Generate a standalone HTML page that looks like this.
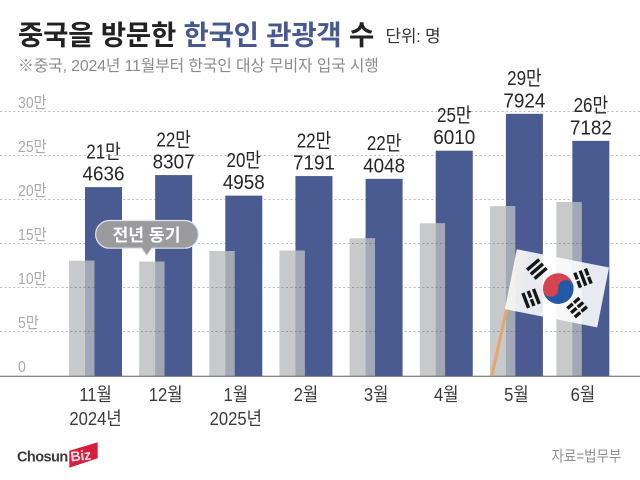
<!DOCTYPE html>
<html lang="ko">
<head>
<meta charset="utf-8">
<title>중국을 방문한 한국인 관광객 수</title>
<style>
  html, body { margin: 0; padding: 0; background: #fff; }
  body { width: 640px; height: 480px; overflow: hidden; }
  svg { display: block; font-family: "Liberation Sans", "Noto Sans CJK KR", sans-serif; }
</style>
</head>
<body>
<svg id="chart" xmlns="http://www.w3.org/2000/svg" width="640" height="480" viewBox="0 0 640 480">
  <defs>
    <linearGradient id="flagShade" x1="0" x2="1" y1="0" y2="0">
      <stop offset="0" stop-color="#f7f3ee" stop-opacity="0.97"/>
      <stop offset="0.18" stop-color="#ffffff" stop-opacity="0.87"/>
      <stop offset="1" stop-color="#ffffff" stop-opacity="0.87"/>
    </linearGradient>
  </defs>
  <rect width="640" height="480" fill="#ffffff"/>

  <text x="18" y="44.5" font-size="27.5" font-weight="700" fill="#222222" letter-spacing="-0.2">중국을 방문한 <tspan fill="#47588f">한국인 관광객</tspan> 수</text>
  <text x="385.5" y="42" font-size="17" fill="#333333" letter-spacing="-0.3">단위: 명</text>
  <text x="18" y="71" font-size="15.8" fill="#8b8b8b" letter-spacing="-0.1">※중국, 2024년 11월부터 한국인 대상 무비자 입국 시행</text>

  <g id="marks"></g>

  <g>
    <path d="M109.5 220.5H184.5A13.8 13.8 0 0 1 184.5 248.2H152L146.7 255.7L141.5 248.2H109.5A13.8 13.8 0 0 1 109.5 220.5Z" fill="#9b9b9d" stroke="#dfe4ee" stroke-width="1.2"/>
    <text x="146.5" y="241" font-size="17.2" font-weight="700" fill="#ffffff" text-anchor="middle">전년 동기</text>
  </g>

  <g>
    <line x1="506.7" y1="309" x2="491.7" y2="376" stroke="#e5a76b" stroke-width="3"/>
    <g transform="translate(557 288.3) rotate(11.2)">
      <rect x="-47" y="-30.5" width="94" height="61" fill="url(#flagShade)"/>
      <g transform="translate(1.3 0) rotate(-17)">
        <circle r="15.3" fill="#d5444f"/>
        <path d="M-15.3 0A15.3 15.3 0 0 0 15.3 0A7.65 7.65 0 0 0 0 0A7.65 7.65 0 0 1 -15.3 0Z" fill="#2059a8"/>
      </g>
      <g transform="translate(-23.5 -15) rotate(-52)" fill="#161616">
        <rect x="-8" y="-7.4" width="16" height="3.4"/><rect x="-8" y="-1.7" width="16" height="3.4"/><rect x="-8" y="4" width="16" height="3.4"/>
      </g>
      <g transform="translate(23.5 -15) rotate(58)" fill="#161616">
        <rect x="-8" y="-7.4" width="7.2" height="3.4"/><rect x="0.8" y="-7.4" width="7.2" height="3.4"/><rect x="-8" y="-1.7" width="16" height="3.4"/><rect x="-8" y="4" width="7.2" height="3.4"/><rect x="0.8" y="4" width="7.2" height="3.4"/>
      </g>
      <g transform="translate(-23.5 15) rotate(58)" fill="#161616">
        <rect x="-8" y="-7.4" width="16" height="3.4"/><rect x="-8" y="-1.7" width="7.2" height="3.4"/><rect x="0.8" y="-1.7" width="7.2" height="3.4"/><rect x="-8" y="4" width="16" height="3.4"/>
      </g>
      <g transform="translate(23.5 15) rotate(-52)" fill="#161616">
        <rect x="-8" y="-7.4" width="7.2" height="3.4"/><rect x="0.8" y="-7.4" width="7.2" height="3.4"/><rect x="-8" y="-1.7" width="7.2" height="3.4"/><rect x="0.8" y="-1.7" width="7.2" height="3.4"/><rect x="-8" y="4" width="7.2" height="3.4"/><rect x="0.8" y="4" width="7.2" height="3.4"/>
      </g>
    </g>
  </g>

  <g>
    <text x="17" y="461.5" font-size="14.5" font-weight="700" fill="#3a3a3c" letter-spacing="-0.55">Chosun</text>
    <polygon points="69.3,450.7 97.7,442.3 97.7,458.3 69.3,467.7" fill="#d3203f"/>
    <text x="71" y="461.5" font-size="14" font-weight="700" fill="#f7dfe3" transform="rotate(-6 71 461.5)" letter-spacing="-0.2">Biz</text>
  </g>
  <text transform="translate(551.5 461) scale(0.9 1)" font-size="15" fill="#8e8e8e">자료=법무부</text>
</svg>
<script>
const categories = ['11월', '12월', '1월', '2월', '3월', '4월', '5월', '6월'];
const yearLabels = ['2024년', '', '2025년', '', '', '', '', ''];
const currentVisitors = [214636, 228307, 204958, 227191, 224048, 256010, 297924, 267182];
const previousVisitors = [131000, 130000, 142000, 142600, 156500, 173500, 193000, 197700];
const yTicks = [0, 50000, 100000, 150000, 200000, 250000, 300000];
const yTickLabels = ['0', '5만', '10만', '15만', '20만', '25만', '30만'];

const SVG_NS = 'http://www.w3.org/2000/svg';
const marks = document.getElementById('marks');

function yScale(v) { return 376 - v * 44 / 50000; }
function xScale(i) { return 85 + 70.15 * i - (i === categories.length - 1 ? 3.7 : 0); }
const BLUE_W = 37;
const GRAY_W = 25.3;
const GRAY_OFFSET = -16;

function make(tag, attrs, parent) {
  const el = document.createElementNS(SVG_NS, tag);
  for (const k in attrs) el.setAttribute(k, attrs[k]);
  (parent || marks).appendChild(el);
  return el;
}
function formatMan(v) { return Math.floor(v / 10000) + '만'; }
function formatRest(v) { return String(v % 10000).padStart(4, '0'); }
function placed(x, y, sx) { return 'translate(' + x + ' ' + y + ') scale(' + sx + ' 1)'; }

const base = yScale(0);

currentVisitors.forEach(function (v, i) {
  const bar = make('rect', { x: xScale(i), y: yScale(v), width: BLUE_W, height: base - yScale(v), fill: '#4a5b92' });
  
  
});

previousVisitors.forEach(function (v, i) {
  const gx = xScale(i) + GRAY_OFFSET;
  const bar = make('rect', { x: gx, y: yScale(v), width: GRAY_W, height: base - yScale(v), fill: '#c8c9cb' });
  
  
  const overlap = make('rect', { x: xScale(i), y: yScale(v), width: GRAY_W + GRAY_OFFSET, height: base - yScale(v), fill: '#a3a8b5' });
  
  
});

yTicks.forEach(function (t, i) {
  if (t !== 0) {
    const grid = make('line', { x1: 0, x2: 640, y1: yScale(t) - 0.5, y2: yScale(t) - 0.5, stroke: '#55586a', 'stroke-opacity': 0.55, 'stroke-width': 0.8, 'stroke-dasharray': '2 2.4' });
    
    
  }
  const label = make('text', { transform: placed(18, yScale(t) - 4, 0.88), 'font-size': 16, fill: '#a8a8a8' });
  
  
  label.textContent = yTickLabels[i];
});

const axis = make('line', { x1: 0, x2: 640, y1: base + 0.3, y2: base + 0.3, stroke: '#5f5f5f', 'stroke-width': 1 });



currentVisitors.forEach(function (v, i) {
  const cx = xScale(i) + BLUE_W / 2;
  const top = yScale(v);
  const man = make('text', { transform: placed(cx, top - 28.8, 0.85), 'font-size': 20, fill: '#262626', 'text-anchor': 'middle' });
  
  
  man.textContent = formatMan(v);
  const rest = make('text', { transform: placed(cx, top - 6.5, 0.92), 'font-size': 20.5, fill: '#262626', 'text-anchor': 'middle' });
  
  
  rest.textContent = formatRest(v);
});

categories.forEach(function (c, i) {
  const cx = xScale(i) + 10.5;
  const month = make('text', { transform: placed(cx, 401.2, 0.9), 'font-size': 18.5, fill: '#3a3a3a', 'text-anchor': 'middle' });
  
  
  month.textContent = c;
  if (yearLabels[i]) {
    const year = make('text', { transform: placed(cx, 425.2, 0.9), 'font-size': 18.5, fill: '#3a3a3a', 'text-anchor': 'middle' });
    
    
    year.textContent = yearLabels[i];
  }
});
</script>
</body>
</html>
